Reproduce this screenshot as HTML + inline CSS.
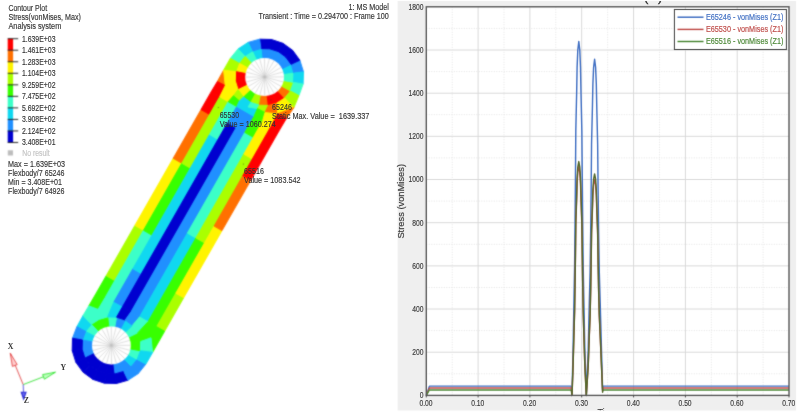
<!DOCTYPE html>
<html><head><meta charset="utf-8"><title>Contour Plot</title>
<style>
html,body{margin:0;padding:0;background:#fff;overflow:hidden}
svg{display:block}
text{font-family:"Liberation Sans",sans-serif}
.t{font-size:8.3px;fill:#333;stroke:#333;stroke-width:0.14px}
.tg{fill:#c4c4c4;stroke:#c4c4c4}
.ax{font-size:8.6px;fill:#3c3c3c;stroke:#3c3c3c;stroke-width:0.16px}
.axt{font-size:9.2px;fill:#3c3c3c;stroke:#3c3c3c;stroke-width:0.2px}
.lg{font-size:8.6px;stroke-width:0.18px}
.ttl{font-size:13px;fill:#2a2a2a;stroke:#2a2a2a;stroke-width:0.35px}
.tr{font-family:"Liberation Serif",serif;font-size:7.8px;font-weight:bold;fill:#383838}
</style></head>
<body>
<svg width="800" height="417" viewBox="0 0 800 417">
<defs>
<filter id="soft" x="0" y="0" width="397" height="417" filterUnits="userSpaceOnUse" color-interpolation-filters="sRGB"><feConvolveMatrix order="3" kernelMatrix="1 2 1 2 8 2 1 2 1" divisor="20" edgeMode="duplicate" preserveAlpha="true"/></filter>
<filter id="soft2" x="397" y="0" width="403" height="417" filterUnits="userSpaceOnUse" color-interpolation-filters="sRGB"><feConvolveMatrix order="3" kernelMatrix="0 1 0 1 7 1 0 1 0" divisor="11" edgeMode="duplicate" preserveAlpha="true"/></filter>
</defs>
<rect width="800" height="417" fill="#fff"/>
<g filter="url(#soft)">
<rect width="397" height="417" fill="#fff"/>
<g id="model" shape-rendering="geometricPrecision">
<polygon fill="#38ff00" stroke="#38ff00" stroke-width="1" stroke-linejoin="round" points="96.6,292.5 106.2,275.7 114.8,280.6 105.2,297.4"/>
<polygon fill="#aaff00" stroke="#aaff00" stroke-width="1" stroke-linejoin="round" points="106.2,275.7 134.9,225.4 143.5,230.3 114.8,280.6"/>
<polygon fill="#fff400" stroke="#fff400" stroke-width="1" stroke-linejoin="round" points="134.9,225.4 173.2,158.3 181.8,163.2 143.5,230.3"/>
<polygon fill="#ff7000" stroke="#ff7000" stroke-width="1" stroke-linejoin="round" points="173.2,158.3 201.0,109.6 209.6,114.5 181.8,163.2"/>
<polygon fill="#ff0000" stroke="#ff0000" stroke-width="1" stroke-linejoin="round" points="201.0,109.6 211.1,91.9 219.7,96.8 209.6,114.5"/>
<polygon fill="#3cffc8" stroke="#3cffc8" stroke-width="1" stroke-linejoin="round" points="105.2,297.4 143.5,230.3 152.0,235.2 113.7,302.3"/>
<polygon fill="#38ff00" stroke="#38ff00" stroke-width="1" stroke-linejoin="round" points="143.5,230.3 181.8,163.2 190.3,168.1 152.0,235.2"/>
<polygon fill="#aaff00" stroke="#aaff00" stroke-width="1" stroke-linejoin="round" points="181.8,163.2 219.7,96.8 228.2,101.7 190.3,168.1"/>
<polygon fill="#2090ff" stroke="#2090ff" stroke-width="1" stroke-linejoin="round" points="113.7,302.3 132.9,268.7 141.4,273.6 122.3,307.1"/>
<polygon fill="#10d8f0" stroke="#10d8f0" stroke-width="1" stroke-linejoin="round" points="132.9,268.7 209.5,134.5 218.0,139.4 141.4,273.6"/>
<polygon fill="#3cffc8" stroke="#3cffc8" stroke-width="1" stroke-linejoin="round" points="209.5,134.5 228.2,101.7 236.8,106.5 218.0,139.4"/>
<polygon fill="#0000d0" stroke="#0000d0" stroke-width="1" stroke-linejoin="round" points="122.3,307.1 227.6,122.6 236.2,127.5 130.9,312.0"/>
<polygon fill="#2090ff" stroke="#2090ff" stroke-width="1" stroke-linejoin="round" points="227.6,122.6 236.8,106.5 245.4,111.5 236.2,127.5"/>
<polygon fill="#2090ff" stroke="#2090ff" stroke-width="1" stroke-linejoin="round" points="130.9,312.0 245.4,111.5 254.0,116.4 139.5,317.0"/>
<polygon fill="#10d8f0" stroke="#10d8f0" stroke-width="1" stroke-linejoin="round" points="139.5,317.0 187.4,233.1 195.9,238.0 148.0,321.8"/>
<polygon fill="#3cffc8" stroke="#3cffc8" stroke-width="1" stroke-linejoin="round" points="187.4,233.1 244.8,132.4 253.4,137.3 195.9,238.0"/>
<polygon fill="#38ff00" stroke="#38ff00" stroke-width="1" stroke-linejoin="round" points="244.8,132.4 254.0,116.4 262.5,121.2 253.4,137.3"/>
<polygon fill="#38ff00" stroke="#38ff00" stroke-width="1" stroke-linejoin="round" points="148.0,321.8 195.9,238.0 204.5,242.8 156.6,326.7"/>
<polygon fill="#aaff00" stroke="#aaff00" stroke-width="1" stroke-linejoin="round" points="195.9,238.0 243.8,154.1 252.4,159.0 204.5,242.8"/>
<polygon fill="#fff400" stroke="#fff400" stroke-width="1" stroke-linejoin="round" points="243.8,154.1 262.5,121.2 271.1,126.1 252.4,159.0"/>
<polygon fill="#aaff00" stroke="#aaff00" stroke-width="1" stroke-linejoin="round" points="156.6,326.7 175.8,293.2 183.7,297.7 164.6,331.3"/>
<polygon fill="#fff400" stroke="#fff400" stroke-width="1" stroke-linejoin="round" points="175.8,293.2 214.1,226.1 222.0,230.6 183.7,297.7"/>
<polygon fill="#ff7000" stroke="#ff7000" stroke-width="1" stroke-linejoin="round" points="214.1,226.1 242.8,175.7 250.8,180.3 222.0,230.6"/>
<polygon fill="#ff0000" stroke="#ff0000" stroke-width="1" stroke-linejoin="round" points="242.8,175.7 271.1,126.1 279.1,130.7 250.8,180.3"/>
<polygon fill="#10d8f0" stroke="#10d8f0" stroke-width="1" stroke-linejoin="round" points="293.9,73.1 291.1,64.3 282.1,68.7 283.9,74.5"/>
<polygon fill="#2090ff" stroke="#2090ff" stroke-width="1" stroke-linejoin="round" points="291.1,64.3 285.7,56.9 278.5,63.8 282.1,68.7"/>
<polygon fill="#2090ff" stroke="#2090ff" stroke-width="1" stroke-linejoin="round" points="285.7,56.9 278.4,51.6 273.7,60.3 278.5,63.8"/>
<polygon fill="#2090ff" stroke="#2090ff" stroke-width="1" stroke-linejoin="round" points="278.4,51.6 269.8,48.8 268.0,58.4 273.7,60.3"/>
<polygon fill="#2090ff" stroke="#2090ff" stroke-width="1" stroke-linejoin="round" points="269.8,48.8 260.9,48.5 262.1,58.3 268.0,58.4"/>
<polygon fill="#10d8f0" stroke="#10d8f0" stroke-width="1" stroke-linejoin="round" points="260.9,48.5 252.2,51.0 256.4,59.8 262.1,58.3"/>
<polygon fill="#3cffc8" stroke="#3cffc8" stroke-width="1" stroke-linejoin="round" points="252.2,51.0 244.6,55.9 251.4,63.1 256.4,59.8"/>
<polygon fill="#aaff00" stroke="#aaff00" stroke-width="1" stroke-linejoin="round" points="244.6,55.9 238.8,63.0 247.6,67.8 251.4,63.1"/>
<polygon fill="#fff400" stroke="#fff400" stroke-width="1" stroke-linejoin="round" points="238.8,63.0 235.6,71.6 245.5,73.5 247.6,67.8"/>
<polygon fill="#ff0000" stroke="#ff0000" stroke-width="1" stroke-linejoin="round" points="235.6,71.6 235.3,80.9 245.3,79.5 245.5,73.5"/>
<polygon fill="#ff0000" stroke="#ff0000" stroke-width="1" stroke-linejoin="round" points="235.3,80.9 238.1,89.7 247.1,85.3 245.3,79.5"/>
<polygon fill="#fff400" stroke="#fff400" stroke-width="1" stroke-linejoin="round" points="238.1,89.7 243.5,97.1 250.7,90.2 247.1,85.3"/>
<polygon fill="#38ff00" stroke="#38ff00" stroke-width="1" stroke-linejoin="round" points="243.5,97.1 250.8,102.4 255.5,93.7 250.7,90.2"/>
<polygon fill="#aaff00" stroke="#aaff00" stroke-width="1" stroke-linejoin="round" points="250.8,102.4 259.4,105.2 261.2,95.6 255.5,93.7"/>
<polygon fill="#ff7000" stroke="#ff7000" stroke-width="1" stroke-linejoin="round" points="259.4,105.2 268.3,105.5 267.1,95.7 261.2,95.6"/>
<polygon fill="#ff0000" stroke="#ff0000" stroke-width="1" stroke-linejoin="round" points="268.3,105.5 277.0,103.0 272.8,94.2 267.1,95.7"/>
<polygon fill="#ff0000" stroke="#ff0000" stroke-width="1" stroke-linejoin="round" points="277.0,103.0 284.6,98.1 277.8,90.9 272.8,94.2"/>
<polygon fill="#ff7000" stroke="#ff7000" stroke-width="1" stroke-linejoin="round" points="284.6,98.1 290.4,91.0 281.6,86.2 277.8,90.9"/>
<polygon fill="#aaff00" stroke="#aaff00" stroke-width="1" stroke-linejoin="round" points="290.4,91.0 293.6,82.4 283.7,80.5 281.6,86.2"/>
<polygon fill="#3cffc8" stroke="#3cffc8" stroke-width="1" stroke-linejoin="round" points="293.6,82.4 293.9,73.1 283.9,74.5 283.7,80.5"/>
<polygon fill="#2090ff" stroke="#2090ff" stroke-width="1" stroke-linejoin="round" points="303.5,71.9 299.8,60.2 291.1,64.3 293.9,73.1"/>
<polygon fill="#0000d0" stroke="#0000d0" stroke-width="1" stroke-linejoin="round" points="299.8,60.2 292.7,50.4 285.7,56.9 291.1,64.3"/>
<polygon fill="#0000d0" stroke="#0000d0" stroke-width="1" stroke-linejoin="round" points="292.7,50.4 282.9,43.3 278.4,51.6 285.7,56.9"/>
<polygon fill="#0000d0" stroke="#0000d0" stroke-width="1" stroke-linejoin="round" points="282.9,43.3 271.5,39.5 269.8,48.8 278.4,51.6"/>
<polygon fill="#0000d0" stroke="#0000d0" stroke-width="1" stroke-linejoin="round" points="271.5,39.5 259.6,39.2 260.9,48.5 269.8,48.8"/>
<polygon fill="#2090ff" stroke="#2090ff" stroke-width="1" stroke-linejoin="round" points="259.6,39.2 248.1,42.4 252.2,51.0 260.9,48.5"/>
<polygon fill="#10d8f0" stroke="#10d8f0" stroke-width="1" stroke-linejoin="round" points="248.1,42.4 238.0,49.0 244.6,55.9 252.2,51.0"/>
<polygon fill="#3cffc8" stroke="#3cffc8" stroke-width="1" stroke-linejoin="round" points="238.0,49.0 230.3,58.4 238.8,63.0 244.6,55.9"/>
<polygon fill="#10d8f0" stroke="#10d8f0" stroke-width="1" stroke-linejoin="round" points="303.1,84.1 303.5,71.9 293.9,73.1 293.6,82.4"/>
<polygon fill="#3cffc8" stroke="#3cffc8" stroke-width="1" stroke-linejoin="round" points="298.9,95.6 303.1,84.1 293.6,82.4 290.4,91.0"/>
<polygon fill="#aaff00" stroke="#aaff00" stroke-width="1" stroke-linejoin="round" points="238.8,63.0 230.3,58.4 223.6,70.2 235.6,71.6"/>
<polygon fill="#aaff00" stroke="#aaff00" stroke-width="1" stroke-linejoin="round" points="284.6,98.1 293.8,107.7 298.9,95.6 290.4,91.0"/>
<polygon fill="#ff7000" stroke="#ff7000" stroke-width="1" stroke-linejoin="round" points="223.6,70.2 217.3,81.6 225.3,85.6"/>
<polygon fill="#ff0000" stroke="#ff0000" stroke-width="1" stroke-linejoin="round" points="211.1,91.9 219.7,96.8 225.3,85.6 217.3,81.6"/>
<polygon fill="#fff400" stroke="#fff400" stroke-width="1" stroke-linejoin="round" points="223.6,70.2 235.6,71.6 235.3,80.9 238.1,89.7 233.4,95.8 228.2,101.7 219.7,96.8 225.3,85.6"/>
<polygon fill="#aaff00" stroke="#aaff00" stroke-width="1" stroke-linejoin="round" points="233.4,95.8 238.1,89.7 243.5,97.1 239.4,100.9"/>
<polygon fill="#38ff00" stroke="#38ff00" stroke-width="1" stroke-linejoin="round" points="228.2,101.7 233.4,95.8 239.4,100.9 236.8,106.5"/>
<polygon fill="#10d8f0" stroke="#10d8f0" stroke-width="1" stroke-linejoin="round" points="236.8,106.5 239.4,100.9 243.5,97.1 250.8,102.4 248.1,107.0 257.5,108.6 254.0,116.4"/>
<polygon fill="#3cffc8" stroke="#3cffc8" stroke-width="1" stroke-linejoin="round" points="250.8,102.4 259.4,105.2 257.5,108.6 248.1,107.0"/>
<polygon fill="#aaff00" stroke="#aaff00" stroke-width="1" stroke-linejoin="round" points="259.4,105.2 268.3,105.5 265.0,112.6 257.5,108.6"/>
<polygon fill="#38ff00" stroke="#38ff00" stroke-width="1" stroke-linejoin="round" points="254.0,116.4 257.5,108.6 265.0,112.6 262.5,121.2"/>
<polygon fill="#ff7000" stroke="#ff7000" stroke-width="1" stroke-linejoin="round" points="268.3,105.5 277.0,103.0 277.6,113.9 265.0,112.6"/>
<polygon fill="#fff400" stroke="#fff400" stroke-width="1" stroke-linejoin="round" points="262.5,121.2 265.0,112.6 277.6,113.9 271.1,126.1"/>
<polygon fill="#fff400" stroke="#fff400" stroke-width="1" stroke-linejoin="round" points="277.0,103.0 284.6,98.1 293.8,107.7 277.6,113.9"/>
<polygon fill="#ff7000" stroke="#ff7000" stroke-width="1" stroke-linejoin="round" points="277.6,113.9 293.8,107.7 286.7,117.9"/>
<polygon fill="#ff0000" stroke="#ff0000" stroke-width="1" stroke-linejoin="round" points="271.1,126.1 277.6,113.9 286.7,117.9 279.1,130.7"/>
<polygon fill="#38ff00" stroke="#38ff00" stroke-width="1" stroke-linejoin="round" points="140.7,341.5 137.9,332.7 128.9,337.1 130.7,342.9"/>
<polygon fill="#3cffc8" stroke="#3cffc8" stroke-width="1" stroke-linejoin="round" points="137.9,332.7 132.5,325.3 125.3,332.2 128.9,337.1"/>
<polygon fill="#10d8f0" stroke="#10d8f0" stroke-width="1" stroke-linejoin="round" points="132.5,325.3 125.2,320.0 120.5,328.7 125.3,332.2"/>
<polygon fill="#2090ff" stroke="#2090ff" stroke-width="1" stroke-linejoin="round" points="125.2,320.0 116.6,317.2 114.8,326.8 120.5,328.7"/>
<polygon fill="#3cffc8" stroke="#3cffc8" stroke-width="1" stroke-linejoin="round" points="116.6,317.2 107.7,316.9 108.9,326.7 114.8,326.8"/>
<polygon fill="#38ff00" stroke="#38ff00" stroke-width="1" stroke-linejoin="round" points="107.7,316.9 99.0,319.4 103.2,328.2 108.9,326.7"/>
<polygon fill="#38ff00" stroke="#38ff00" stroke-width="1" stroke-linejoin="round" points="99.0,319.4 91.4,324.3 98.2,331.5 103.2,328.2"/>
<polygon fill="#3cffc8" stroke="#3cffc8" stroke-width="1" stroke-linejoin="round" points="91.4,324.3 85.6,331.4 94.4,336.2 98.2,331.5"/>
<polygon fill="#10d8f0" stroke="#10d8f0" stroke-width="1" stroke-linejoin="round" points="85.6,331.4 82.4,340.0 92.3,341.9 94.4,336.2"/>
<polygon fill="#2090ff" stroke="#2090ff" stroke-width="1" stroke-linejoin="round" points="82.4,340.0 82.1,349.3 92.1,347.9 92.3,341.9"/>
<polygon fill="#2090ff" stroke="#2090ff" stroke-width="1" stroke-linejoin="round" points="82.1,349.3 84.9,358.1 93.9,353.7 92.1,347.9"/>
<polygon fill="#0000d0" stroke="#0000d0" stroke-width="1" stroke-linejoin="round" points="84.9,358.1 90.3,365.5 97.5,358.6 93.9,353.7"/>
<polygon fill="#0000d0" stroke="#0000d0" stroke-width="1" stroke-linejoin="round" points="90.3,365.5 97.6,370.8 102.3,362.1 97.5,358.6"/>
<polygon fill="#0000d0" stroke="#0000d0" stroke-width="1" stroke-linejoin="round" points="97.6,370.8 106.2,373.6 108.0,364.0 102.3,362.1"/>
<polygon fill="#0000d0" stroke="#0000d0" stroke-width="1" stroke-linejoin="round" points="106.2,373.6 115.1,373.9 113.9,364.1 108.0,364.0"/>
<polygon fill="#2090ff" stroke="#2090ff" stroke-width="1" stroke-linejoin="round" points="115.1,373.9 123.8,371.4 119.6,362.6 113.9,364.1"/>
<polygon fill="#2090ff" stroke="#2090ff" stroke-width="1" stroke-linejoin="round" points="123.8,371.4 131.4,366.5 124.6,359.3 119.6,362.6"/>
<polygon fill="#10d8f0" stroke="#10d8f0" stroke-width="1" stroke-linejoin="round" points="131.4,366.5 137.2,359.4 128.4,354.6 124.6,359.3"/>
<polygon fill="#3cffc8" stroke="#3cffc8" stroke-width="1" stroke-linejoin="round" points="137.2,359.4 140.4,350.8 130.5,348.9 128.4,354.6"/>
<polygon fill="#38ff00" stroke="#38ff00" stroke-width="1" stroke-linejoin="round" points="140.4,350.8 140.7,341.5 130.7,342.9 130.5,348.9"/>
<polygon fill="#10d8f0" stroke="#10d8f0" stroke-width="1" stroke-linejoin="round" points="91.4,324.3 83.1,315.5 76.9,326.7 85.6,331.4"/>
<polygon fill="#2090ff" stroke="#2090ff" stroke-width="1" stroke-linejoin="round" points="76.9,326.7 72.5,338.2 82.4,340.0 85.6,331.4"/>
<polygon fill="#0000d0" stroke="#0000d0" stroke-width="1" stroke-linejoin="round" points="72.5,338.2 72.2,350.6 82.1,349.3 82.4,340.0"/>
<polygon fill="#0000d0" stroke="#0000d0" stroke-width="1" stroke-linejoin="round" points="72.2,350.6 75.9,362.3 84.9,358.1 82.1,349.3"/>
<polygon fill="#0000d0" stroke="#0000d0" stroke-width="1" stroke-linejoin="round" points="75.9,362.3 83.1,372.2 90.3,365.5 84.9,358.1"/>
<polygon fill="#0000d0" stroke="#0000d0" stroke-width="1" stroke-linejoin="round" points="83.1,372.2 93.0,379.4 97.6,370.8 90.3,365.5"/>
<polygon fill="#0000d0" stroke="#0000d0" stroke-width="1" stroke-linejoin="round" points="93.0,379.4 104.4,383.2 106.2,373.6 97.6,370.8"/>
<polygon fill="#0000d0" stroke="#0000d0" stroke-width="1" stroke-linejoin="round" points="104.4,383.2 116.4,383.5 115.1,373.9 106.2,373.6"/>
<polygon fill="#0000d0" stroke="#0000d0" stroke-width="1" stroke-linejoin="round" points="116.4,383.5 128.0,380.2 123.8,371.4 115.1,373.9"/>
<polygon fill="#2090ff" stroke="#2090ff" stroke-width="1" stroke-linejoin="round" points="128.0,380.2 138.2,373.6 131.4,366.5 123.8,371.4"/>
<polygon fill="#2090ff" stroke="#2090ff" stroke-width="1" stroke-linejoin="round" points="138.2,373.6 145.9,364.1 137.2,359.4 131.4,366.5"/>
<polygon fill="#38ff00" stroke="#38ff00" stroke-width="1" stroke-linejoin="round" points="96.6,292.5 105.2,297.4 98.1,309.4 88.8,305.9"/>
<polygon fill="#3cffc8" stroke="#3cffc8" stroke-width="1" stroke-linejoin="round" points="88.8,305.9 98.1,309.4 105.2,297.4 113.7,302.3 107.7,316.9 99.0,319.4 91.4,324.3 83.1,315.5"/>
<polygon fill="#10d8f0" stroke="#10d8f0" stroke-width="1" stroke-linejoin="round" points="113.7,302.3 122.3,307.1 116.6,317.2 107.7,316.9"/>
<polygon fill="#0000d0" stroke="#0000d0" stroke-width="1" stroke-linejoin="round" points="122.3,307.1 130.9,312.0 125.2,320.0 116.6,317.2"/>
<polygon fill="#2090ff" stroke="#2090ff" stroke-width="1" stroke-linejoin="round" points="130.9,312.0 139.5,317.0 132.5,325.3 125.2,320.0"/>
<polygon fill="#3cffc8" stroke="#3cffc8" stroke-width="1" stroke-linejoin="round" points="139.5,317.0 148.0,321.8 137.9,332.7 132.5,325.3"/>
<polygon fill="#38ff00" stroke="#38ff00" stroke-width="1" stroke-linejoin="round" points="148.0,321.8 164.6,331.3 152.6,352.4 151.0,337.8 140.7,341.5 137.9,332.7"/>
<polygon fill="#3cffc8" stroke="#3cffc8" stroke-width="1" stroke-linejoin="round" points="140.7,341.5 151.0,337.8 152.6,352.4 140.4,350.8"/>
<polygon fill="#10d8f0" stroke="#10d8f0" stroke-width="1" stroke-linejoin="round" points="140.4,350.8 152.6,352.4 145.9,364.1 137.2,359.4"/>
<ellipse cx="264.6" cy="77.0" rx="19.4" ry="19.0" fill="#fff"/>
<ellipse cx="111.4" cy="345.4" rx="19.4" ry="19.0" fill="#fff"/>
<circle cx="243.4" cy="164.0" r="0.6" fill="#3a3a20" fill-opacity="0.7"/>
<circle cx="218.3" cy="107.5" r="0.6" fill="#3a3a20" fill-opacity="0.7"/>
<circle cx="270.9" cy="99.8" r="0.6" fill="#3a3a20" fill-opacity="0.7"/>
<path d="M264.6 77.0L284.1 76.9 M264.6 77.0L283.3 71.9 M264.6 77.0L281.3 67.3 M264.6 77.0L278.1 63.4 M264.6 77.0L274.1 60.5 M264.6 77.0L269.4 58.7 M264.6 77.0L264.5 58.1 M264.6 77.0L259.6 58.7 M264.6 77.0L255.0 60.5 M264.6 77.0L251.0 63.5 M264.6 77.0L247.8 67.4 M264.6 77.0L245.8 72.0 M264.6 77.0L245.1 77.1 M264.6 77.0L245.9 82.1 M264.6 77.0L247.9 86.7 M264.6 77.0L251.1 90.6 M264.6 77.0L255.1 93.5 M264.6 77.0L259.8 95.3 M264.6 77.0L264.7 95.9 M264.6 77.0L269.6 95.3 M264.6 77.0L274.2 93.5 M264.6 77.0L278.2 90.5 M264.6 77.0L281.4 86.6 M264.6 77.0L283.4 82.0 M111.4 345.4L130.9 345.3 M111.4 345.4L130.1 340.3 M111.4 345.4L128.1 335.7 M111.4 345.4L124.9 331.8 M111.4 345.4L120.9 328.9 M111.4 345.4L116.2 327.1 M111.4 345.4L111.3 326.5 M111.4 345.4L106.4 327.1 M111.4 345.4L101.8 328.9 M111.4 345.4L97.8 331.9 M111.4 345.4L94.6 335.8 M111.4 345.4L92.6 340.4 M111.4 345.4L91.9 345.5 M111.4 345.4L92.7 350.5 M111.4 345.4L94.7 355.1 M111.4 345.4L97.9 359.0 M111.4 345.4L101.9 361.9 M111.4 345.4L106.6 363.7 M111.4 345.4L111.5 364.3 M111.4 345.4L116.4 363.7 M111.4 345.4L121.0 361.9 M111.4 345.4L125.0 358.9 M111.4 345.4L128.2 355.0 M111.4 345.4L130.2 350.4" stroke="#bcbcbc" stroke-width="0.5" fill="none"/>
</g>
<g id="triad">
<path d="M23.2 384.6L10.3 353.3" stroke="#e04040" stroke-width="0.9" fill="none"/>
<path d="M10.3 353.3L12.4 366.4L17.2 364.6Z" fill="#ffd0d0" stroke="#e03030" stroke-width="0.8"/>
<path d="M23.2 384.6L55.4 372.2" stroke="#30e030" stroke-width="0.9" fill="none"/>
<path d="M55.4 372.2L42.6 374.6L44.4 379.2Z" fill="#c0ffc0" stroke="#20e020" stroke-width="0.8"/>
<path d="M23.2 384.6L23.8 398.5" stroke="#5050e0" stroke-width="0.9" fill="none"/>
<path d="M23.6 399L21.3 392.2L26 392.2Z" fill="#6a6aee" stroke="#2222d4" stroke-width="1.1"/>
</g>
<g id="legendbar">
<rect x="7.7" y="38.70" width="5.4" height="11.63" fill="#ff0000"/>
<rect x="7.7" y="50.23" width="5.4" height="11.63" fill="#ff7000"/>
<rect x="7.7" y="61.76" width="5.4" height="11.63" fill="#fff400"/>
<rect x="7.7" y="73.29" width="5.4" height="11.63" fill="#aaff00"/>
<rect x="7.7" y="84.82" width="5.4" height="11.63" fill="#38ff00"/>
<rect x="7.7" y="96.35" width="5.4" height="11.63" fill="#3cffc8"/>
<rect x="7.7" y="107.88" width="5.4" height="11.63" fill="#10d8f0"/>
<rect x="7.7" y="119.41" width="5.4" height="11.63" fill="#2090ff"/>
<rect x="7.7" y="130.94" width="5.4" height="11.63" fill="#0000d0"/>
<path d="M7.7 38.70H18.2 M7.7 50.23H18.2 M7.7 61.76H18.2 M7.7 73.29H18.2 M7.7 84.82H18.2 M7.7 96.35H18.2 M7.7 107.88H18.2 M7.7 119.41H18.2 M7.7 130.94H18.2 M7.7 142.47H18.2" stroke="#1c1c1c" stroke-width="0.95"/>
<rect x="7.8" y="150.3" width="5.2" height="5.2" fill="#bdbdbd"/>
</g>
</g>
<g filter="url(#soft2)">
<rect x="397" width="403" height="417" fill="#fff"/>
<g id="chart">
<rect x="397.7" y="1" width="398.4" height="409.5" fill="#efefef"/>
<rect x="426.3" y="6.8" width="362.7" height="388.6" fill="#fff"/>
<path d="M478.1 6.8V395.4 M529.9 6.8V395.4 M581.7 6.8V395.4 M633.6 6.8V395.4 M685.4 6.8V395.4 M737.2 6.8V395.4 M426.3 352.2H789.0 M426.3 309.0H789.0 M426.3 265.9H789.0 M426.3 222.7H789.0 M426.3 179.5H789.0 M426.3 136.3H789.0 M426.3 93.2H789.0 M426.3 50.0H789.0" stroke="#dadada" stroke-width="1" fill="none"/>
<path d="M452.2 6.8V395.4 M504.0 6.8V395.4 M555.8 6.8V395.4 M607.7 6.8V395.4 M659.5 6.8V395.4 M711.3 6.8V395.4 M763.1 6.8V395.4 M426.3 373.8H789.0 M426.3 330.6H789.0 M426.3 287.5H789.0 M426.3 244.3H789.0 M426.3 201.1H789.0 M426.3 157.9H789.0 M426.3 114.7H789.0 M426.3 71.6H789.0 M426.3 28.4H789.0" stroke="#e6e6e6" stroke-width="1" stroke-dasharray="1 1.5" fill="none"/>
<polyline points="426.30,395.40 429.41,386.12 571.30,386.12" fill="none" stroke="#4472c4" stroke-width="1.4" stroke-linejoin="round"/>
<polyline points="603.00,386.12 789.00,386.12" fill="none" stroke="#4472c4" stroke-width="1.4" stroke-linejoin="round"/>
<polyline points="571.30,386.12 572.00,395.40 573.10,347.99 574.00,298.09 574.60,265.89 575.05,222.73 575.45,179.56 575.80,131.08 576.65,93.22 577.10,67.39 577.80,50.05 578.80,41.56 579.80,50.05 580.50,67.39 581.00,93.22 581.85,131.08 582.30,179.56 582.70,222.73 583.20,265.89 583.80,298.09 584.80,347.99 586.30,395.40 588.20,350.36 589.30,302.96 590.10,272.37 590.70,231.36 591.15,190.36 591.55,144.30 592.40,108.34 592.90,83.80 593.60,67.33 594.60,59.26 595.60,67.33 596.30,83.80 596.80,108.34 597.65,144.30 598.10,190.36 598.60,231.36 599.30,272.37 600.20,302.96 601.50,350.36 602.60,389.83 603.00,386.12" fill="none" stroke="#4472c4" stroke-width="1.45" stroke-linejoin="round"/>
<polyline points="426.30,395.40 429.41,388.06 571.30,388.06" fill="none" stroke="#c0504d" stroke-width="1.4" stroke-linejoin="round"/>
<polyline points="603.00,388.06 789.00,388.06" fill="none" stroke="#c0504d" stroke-width="1.4" stroke-linejoin="round"/>
<polyline points="571.30,388.06 572.00,395.40 573.10,364.74 574.00,332.47 574.60,311.64 575.05,283.72 575.45,255.81 575.80,224.45 576.65,199.97 577.10,183.26 577.80,172.05 578.80,166.56 579.80,172.05 580.50,183.26 581.00,199.97 581.85,224.45 582.30,255.81 582.70,283.72 583.20,311.64 583.80,332.47 584.80,364.74 586.30,395.40 588.20,366.47 589.30,336.03 590.10,316.38 590.70,290.05 591.15,263.71 591.55,234.13 592.40,211.03 592.90,195.27 593.60,184.69 594.60,179.51 595.60,184.69 596.30,195.27 596.80,211.03 597.65,234.13 598.10,263.71 598.60,290.05 599.30,316.38 600.20,336.03 601.50,366.47 602.60,391.00 603.00,388.06" fill="none" stroke="#c0504d" stroke-width="1.45" stroke-linejoin="round"/>
<polyline points="426.30,395.40 429.41,390.00 571.30,390.00" fill="none" stroke="#4f8a3a" stroke-width="1.4" stroke-linejoin="round"/>
<polyline points="603.00,390.00 789.00,390.00" fill="none" stroke="#4f8a3a" stroke-width="1.4" stroke-linejoin="round"/>
<polyline points="571.30,390.00 572.00,395.40 573.10,364.07 574.00,331.10 574.60,309.83 575.05,281.30 575.45,252.78 575.80,220.75 576.65,195.73 577.10,178.66 577.80,167.20 578.80,161.59 579.80,167.20 580.50,178.66 581.00,195.73 581.85,220.75 582.30,252.78 582.70,281.30 583.20,309.83 583.80,331.10 584.80,364.07 586.30,395.40 588.20,365.72 589.30,334.49 590.10,314.33 590.70,287.31 591.15,260.28 591.55,229.94 592.40,206.24 592.90,190.07 593.60,179.21 594.60,173.90 595.60,179.21 596.30,190.07 596.80,206.24 597.65,229.94 598.10,260.28 598.60,287.31 599.30,314.33 600.20,334.49 601.50,365.72 602.60,392.16 603.00,390.00" fill="none" stroke="#55692c" stroke-width="1.45" stroke-linejoin="round"/>
<rect x="426.3" y="6.8" width="362.7" height="388.6" fill="none" stroke="#5a5a5a" stroke-width="1.4"/>
<path d="M426.3 395.4v2 M478.1 395.4v2 M529.9 395.4v2 M581.7 395.4v2 M633.6 395.4v2 M685.4 395.4v2 M737.2 395.4v2 M789.0 395.4v2" stroke="#505050" stroke-width="1" fill="none"/>
<clipPath id="cpt"><rect x="596" y="400" width="8.2" height="10.2"/></clipPath>
<clipPath id="cpp"><rect x="630" y="1.1" width="50" height="5"/></clipPath>
<rect x="674.4" y="9.5" width="112" height="40" fill="#fff" stroke="#404040" stroke-width="1"/>
<path d="M677.5 17.2H703.5" stroke="#4472c4" stroke-width="1.5"/>
<path d="M677.5 29.4H703.5" stroke="#c0504d" stroke-width="1.5"/>
<path d="M677.5 41.5H703.5" stroke="#4f8a3a" stroke-width="1.5"/>
</g>
</g>
<g id="labels">
<text x="219.75" y="118.10" class="t" textLength="19.30" lengthAdjust="spacingAndGlyphs" style="white-space:pre">65530</text>
<text x="219.75" y="126.50" class="t" textLength="55.90" lengthAdjust="spacingAndGlyphs" style="white-space:pre">Value = 1060.274</text>
<text x="272.10" y="109.75" class="t" textLength="19.80" lengthAdjust="spacingAndGlyphs" style="white-space:pre">65246</text>
<text x="272.10" y="118.75" class="t" textLength="97.30" lengthAdjust="spacingAndGlyphs" style="white-space:pre">Static Max. Value =  1639.337</text>
<text x="244.10" y="174.10" class="t" textLength="19.80" lengthAdjust="spacingAndGlyphs" style="white-space:pre">65516</text>
<text x="244.10" y="182.90" class="t" textLength="56.40" lengthAdjust="spacingAndGlyphs" style="white-space:pre">Value = 1083.542</text>
<text x="10.5" y="348.9" class="tr" text-anchor="middle">X</text>
<text x="63.2" y="369.8" class="tr" text-anchor="middle">Y</text>
<text x="26.4" y="403.4" class="tr" text-anchor="middle">Z</text>
<text x="8.40" y="10.50" class="t" textLength="38.70" lengthAdjust="spacingAndGlyphs" style="white-space:pre">Contour Plot</text>
<text x="8.40" y="19.80" class="t" textLength="72.50" lengthAdjust="spacingAndGlyphs" style="white-space:pre">Stress(vonMises, Max)</text>
<text x="8.40" y="29.10" class="t" textLength="52.90" lengthAdjust="spacingAndGlyphs" style="white-space:pre">Analysis system</text>
<text x="21.90" y="41.50" class="t" textLength="33.60" lengthAdjust="spacingAndGlyphs" style="white-space:pre">1.639E+03</text>
<text x="21.90" y="53.03" class="t" textLength="33.60" lengthAdjust="spacingAndGlyphs" style="white-space:pre">1.461E+03</text>
<text x="21.90" y="64.56" class="t" textLength="33.60" lengthAdjust="spacingAndGlyphs" style="white-space:pre">1.283E+03</text>
<text x="21.90" y="76.09" class="t" textLength="33.60" lengthAdjust="spacingAndGlyphs" style="white-space:pre">1.104E+03</text>
<text x="21.90" y="87.62" class="t" textLength="33.60" lengthAdjust="spacingAndGlyphs" style="white-space:pre">9.259E+02</text>
<text x="21.90" y="99.15" class="t" textLength="33.60" lengthAdjust="spacingAndGlyphs" style="white-space:pre">7.475E+02</text>
<text x="21.90" y="110.68" class="t" textLength="33.60" lengthAdjust="spacingAndGlyphs" style="white-space:pre">5.692E+02</text>
<text x="21.90" y="122.21" class="t" textLength="33.60" lengthAdjust="spacingAndGlyphs" style="white-space:pre">3.908E+02</text>
<text x="21.90" y="133.74" class="t" textLength="33.60" lengthAdjust="spacingAndGlyphs" style="white-space:pre">2.124E+02</text>
<text x="21.90" y="145.27" class="t" textLength="33.60" lengthAdjust="spacingAndGlyphs" style="white-space:pre">3.408E+01</text>
<text x="22.20" y="155.60" class="t tg" textLength="27.50" lengthAdjust="spacingAndGlyphs" style="white-space:pre">No result</text>
<text x="8.10" y="166.50" class="t" textLength="56.90" lengthAdjust="spacingAndGlyphs" style="white-space:pre">Max = 1.639E+03</text>
<text x="8.10" y="175.60" class="t" textLength="56.30" lengthAdjust="spacingAndGlyphs" style="white-space:pre">Flexbody/7 65246</text>
<text x="8.10" y="185.00" class="t" textLength="53.80" lengthAdjust="spacingAndGlyphs" style="white-space:pre">Min = 3.408E+01</text>
<text x="8.10" y="194.40" class="t" textLength="56.30" lengthAdjust="spacingAndGlyphs" style="white-space:pre">Flexbody/7 64926</text>
<text x="348.45" y="9.75" class="t" textLength="40.35" lengthAdjust="spacingAndGlyphs" style="white-space:pre">1: MS Model</text>
<text x="258.50" y="18.75" class="t" textLength="130.30" lengthAdjust="spacingAndGlyphs" style="white-space:pre">Transient : Time = 0.294700 : Frame 100</text>
<text x="419.75" y="398.30" class="ax" textLength="3.75" lengthAdjust="spacingAndGlyphs" style="white-space:pre">0</text>
<text x="412.25" y="355.12" class="ax" textLength="11.25" lengthAdjust="spacingAndGlyphs" style="white-space:pre">200</text>
<text x="412.25" y="311.94" class="ax" textLength="11.25" lengthAdjust="spacingAndGlyphs" style="white-space:pre">400</text>
<text x="412.25" y="268.77" class="ax" textLength="11.25" lengthAdjust="spacingAndGlyphs" style="white-space:pre">600</text>
<text x="412.25" y="225.59" class="ax" textLength="11.25" lengthAdjust="spacingAndGlyphs" style="white-space:pre">800</text>
<text x="408.50" y="182.41" class="ax" textLength="15.00" lengthAdjust="spacingAndGlyphs" style="white-space:pre">1000</text>
<text x="408.50" y="139.23" class="ax" textLength="15.00" lengthAdjust="spacingAndGlyphs" style="white-space:pre">1200</text>
<text x="408.50" y="96.06" class="ax" textLength="15.00" lengthAdjust="spacingAndGlyphs" style="white-space:pre">1400</text>
<text x="408.50" y="52.88" class="ax" textLength="15.00" lengthAdjust="spacingAndGlyphs" style="white-space:pre">1600</text>
<text x="408.50" y="9.70" class="ax" textLength="15.00" lengthAdjust="spacingAndGlyphs" style="white-space:pre">1800</text>
<text x="419.45" y="405.60" class="ax" textLength="13.10" lengthAdjust="spacingAndGlyphs" style="white-space:pre">0.00</text>
<text x="471.26" y="405.60" class="ax" textLength="13.10" lengthAdjust="spacingAndGlyphs" style="white-space:pre">0.10</text>
<text x="523.08" y="405.60" class="ax" textLength="13.10" lengthAdjust="spacingAndGlyphs" style="white-space:pre">0.20</text>
<text x="574.89" y="405.60" class="ax" textLength="13.10" lengthAdjust="spacingAndGlyphs" style="white-space:pre">0.30</text>
<text x="626.71" y="405.60" class="ax" textLength="13.10" lengthAdjust="spacingAndGlyphs" style="white-space:pre">0.40</text>
<text x="678.52" y="405.60" class="ax" textLength="13.10" lengthAdjust="spacingAndGlyphs" style="white-space:pre">0.50</text>
<text x="730.34" y="405.60" class="ax" textLength="13.10" lengthAdjust="spacingAndGlyphs" style="white-space:pre">0.60</text>
<text x="782.15" y="405.60" class="ax" textLength="13.10" lengthAdjust="spacingAndGlyphs" style="white-space:pre">0.70</text>
<text transform="translate(404.2,238.6) rotate(-90)" class="axt" textLength="74.6" lengthAdjust="spacingAndGlyphs">Stress (vonMises)</text>
<text x="597.4" y="415.2" class="axt" clip-path="url(#cpt)">Time</text>
<text x="643.9" y="1.1" class="ttl" clip-path="url(#cpp)">(</text>
<text x="657.9" y="1.1" class="ttl" clip-path="url(#cpp)">)</text>
<text x="705.90" y="20.10" class="lg" textLength="77.50" lengthAdjust="spacingAndGlyphs" style="white-space:pre" fill="#4472c4" stroke="#4472c4">E65246 - vonMises (Z1)</text>
<text x="705.90" y="32.25" class="lg" textLength="77.50" lengthAdjust="spacingAndGlyphs" style="white-space:pre" fill="#c0504d" stroke="#c0504d">E65530 - vonMises (Z1)</text>
<text x="705.90" y="44.40" class="lg" textLength="77.50" lengthAdjust="spacingAndGlyphs" style="white-space:pre" fill="#4f8a3a" stroke="#4f8a3a">E65516 - vonMises (Z1)</text>
</g>

</svg>
</body></html>
